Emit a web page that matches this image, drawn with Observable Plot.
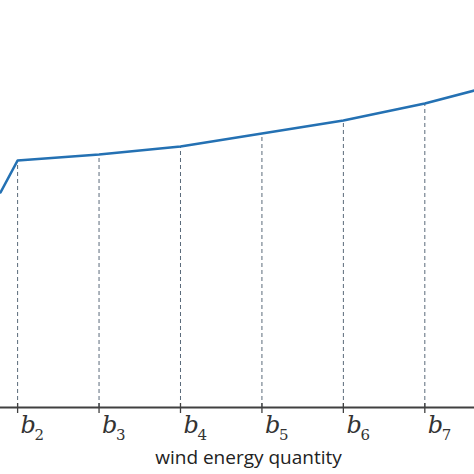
<!DOCTYPE html>
<html>
<head>
<meta charset="utf-8">
<script src="https://cdn.jsdelivr.net/npm/d3@7"></script>
<script src="https://cdn.jsdelivr.net/npm/@observablehq/plot@0.6"></script>
<style>
  html, body { margin: 0; padding: 0; background: #fff; }
</style>
</head>
<body>
<div id="chart"></div>
<script>
// breakpoints b2..b7 (index positions on the wind energy axis)
const bIndex = [2, 3, 4, 5, 6, 7];
const bSubs = ["2", "3", "4", "5", "6", "7"];
// curve value at each breakpoint
const bValues = [247, 253, 261, 274, 287, 304];
// the piecewise curve, including the parts running off the visible edges
const lineX = [1.79, 2, 3, 4, 5, 6, 7, 7.61];
const lineY = [215, 247, 253, 261, 274, 287, 304, 317];
const axisTitle = "wind energy quantity";

const lineData = lineX.map((x, i) => ({x, y: lineY[i]}));
const bData = bIndex.map((x, i) => ({x, y: bValues[i], sub: bSubs[i]}));

const chart = Plot.plot({
  width: 474,
  height: 474,
  marginTop: 0,
  marginRight: 0,
  marginLeft: 0,
  marginBottom: 67,
  x: {domain: [1.79, 7.61], axis: null},
  y: {domain: [0, 407], axis: null},
  marks: [
    Plot.ruleX(bData, {x: "x", y1: 0, y2: "y", stroke: "#5a6a7a", strokeWidth: 1, strokeDasharray: "4,3"}),
    Plot.line(lineData, {x: "x", y: "y", stroke: "#2471b3", strokeWidth: 2.6, curve: "linear"}),
    Plot.ruleY([0], {stroke: "#404040", strokeWidth: 2}),
    Plot.ruleX(bData, {x: "x", y1: -6, y2: 4, stroke: "#404040", strokeWidth: 1.3}),
    Plot.text(bData, {x: "x", y: 0, text: () => "b", dx: 3, dy: 18, textAnchor: "start",
      fontFamily: "DejaVu Serif", fontStyle: "italic", fontSize: 24, fill: "#333"}),
    Plot.text(bData, {x: "x", y: 0, text: "sub", dx: 17, dy: 28, textAnchor: "start",
      fontFamily: "DejaVu Serif", fontSize: 15, fill: "#333"}),
    Plot.text([axisTitle], {frameAnchor: "bottom", dx: 11, dy: 56,
      fontFamily: "Open Sans", fontSize: 19, fill: "#222"})
  ]
});
document.getElementById("chart").appendChild(chart);
</script>
</body>
</html>
